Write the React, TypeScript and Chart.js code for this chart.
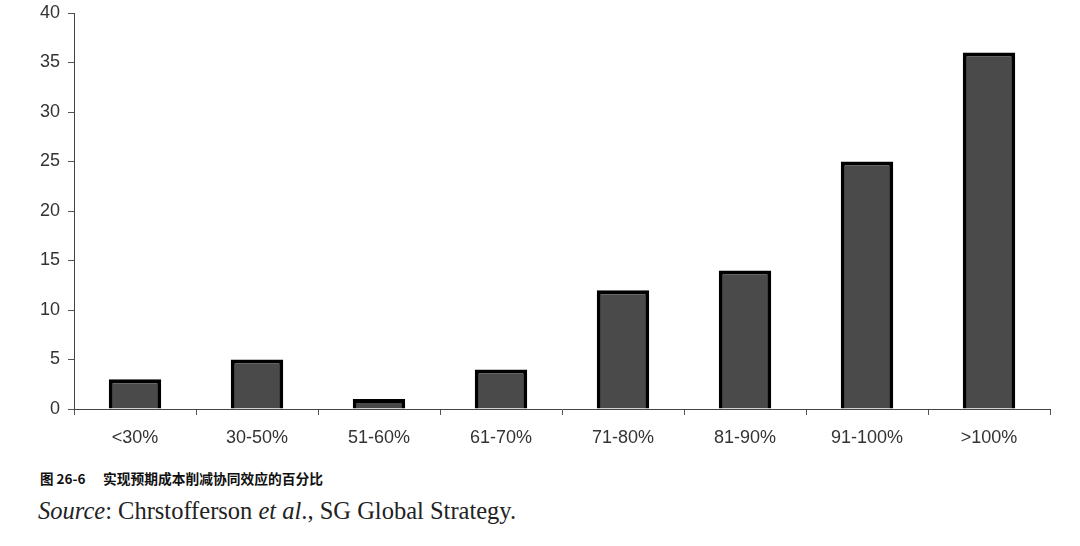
import React, { useEffect, useRef } from "react";
import { Chart, registerables } from "chart.js";

Chart.register(...registerables);

const categories = ["<30%", "30-50%", "51-60%", "61-70%", "71-80%", "81-90%", "91-100%", ">100%"];
const values = [3, 5, 1, 4, 12, 14, 25, 36];
const yTicks = [0, 5, 10, 15, 20, 25, 30, 35, 40];
const figLabel = "图 26-6";
const captionText = "实现预期成本削减协同效应的百分比";

export default function App() {
  const ref = useRef<HTMLCanvasElement | null>(null);
  useEffect(() => {
    const canvas = ref.current;
    if (!canvas) return;
    const chart = new Chart(canvas, {
      type: "bar",
      data: {
        labels: categories,
        datasets: [
          {
            data: values,
            backgroundColor: "#4a4a4a",
            borderColor: "#000000",
            borderWidth: 4,
            borderSkipped: "bottom",
            categoryPercentage: 1,
            barPercentage: 0.43,
          },
        ],
      },
      options: {
        responsive: false,
        animation: false,
        layout: { padding: { top: 13, right: 30, left: 0, bottom: 0 } },
        plugins: { legend: { display: false }, tooltip: { enabled: false } },
        scales: {
          x: {
            offset: true,
            grid: {
              offset: true,
              drawOnChartArea: false,
              drawTicks: true,
              tickLength: 6,
              color: "#555555",
            },
            border: { display: true, color: "#444444", width: 1 },
            ticks: {
              color: "#333333",
              font: { family: "'Liberation Sans', Arial, sans-serif", size: 18 },
              padding: 12,
              maxRotation: 0,
            },
            afterFit: (s: any) => {
              s.height = 41;
              s.paddingLeft = 0;
              s.paddingRight = 0;
            },
          },
          y: {
            min: 0,
            max: 40,
            afterBuildTicks: (s: any) => {
              s.ticks = yTicks.map((v) => ({ value: v }));
            },
            grid: {
              drawOnChartArea: false,
              drawTicks: true,
              tickLength: 6,
              color: "#555555",
            },
            border: { display: true, color: "#444444", width: 1 },
            ticks: {
              color: "#333333",
              font: { family: "'Liberation Sans', Arial, sans-serif", size: 18 },
              padding: 8,
            },
            afterFit: (s: any) => {
              s.width = 74;
              s.paddingTop = 0;
              s.paddingBottom = 0;
            },
          },
        },
      },
    });
    return () => chart.destroy();
  }, []);

  return (
    <div style={{ position: "fixed", left: 0, top: 0, width: 1080, height: 546, background: "#ffffff" }}>
      <canvas ref={ref} width={1080} height={450} style={{ display: "block", width: 1080, height: 450 }} />
      <div
        style={{
          position: "absolute",
          left: 40,
          top: 469,
          fontFamily: "'Noto Sans CJK SC', sans-serif",
          fontWeight: 700,
          fontSize: 13.5,
          color: "#111111",
          whiteSpace: "pre",
          lineHeight: "18px",
        }}
      >
        {figLabel}
      </div>
      <div
        style={{
          position: "absolute",
          left: 103,
          top: 469,
          fontFamily: "'Noto Sans CJK SC', sans-serif",
          fontWeight: 700,
          fontSize: 13.75,
          color: "#111111",
          whiteSpace: "pre",
          lineHeight: "18px",
        }}
      >
        {captionText}
      </div>
      <div
        style={{
          position: "absolute",
          left: 38,
          top: 495,
          fontFamily: "'Liberation Serif', 'Times New Roman', serif",
          fontSize: 24.5,
          color: "#222222",
          whiteSpace: "pre",
          lineHeight: "32px",
        }}
      >
        <i>Source</i>: Chrstofferson <i>et al</i>., SG Global Strategy.
      </div>
    </div>
  );
}
